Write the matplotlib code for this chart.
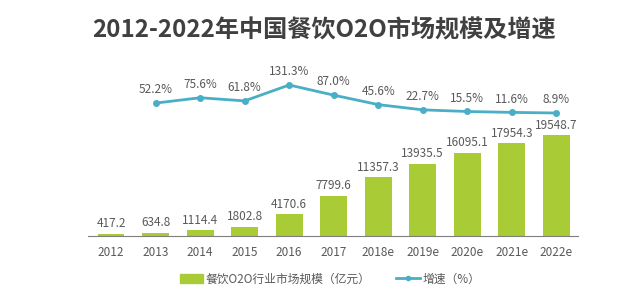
import matplotlib
matplotlib.use('Agg')
import matplotlib.pyplot as plt
from matplotlib.lines import Line2D
from matplotlib.patches import Patch

plt.rcParams['font.family'] = ['Noto Sans CJK SC', 'DejaVu Sans']

years = ['2012', '2013', '2014', '2015', '2016', '2017',
         '2018e', '2019e', '2020e', '2021e', '2022e']
scale = [417.2, 634.8, 1114.4, 1802.8, 4170.6, 7799.6,
         11357.3, 13935.5, 16095.1, 17954.3, 19548.7]
growth_years = years[1:]
growth = [52.2, 75.6, 61.8, 131.3, 87.0, 45.6, 22.7, 15.5, 11.6, 8.9]

bar_c = '#a9cb35'
line_c = '#4aafc6'
txt_c = '#595959'

fig = plt.figure(figsize=(6.4, 3.06), dpi=100)
ax = fig.add_axes([88 / 640, 1 - 236 / 306, 490 / 640, 161 / 306])
x = list(range(len(years)))
ax.bar(x, scale, width=0.6, color=bar_c)
for xi, v in zip(x, scale):
    ax.text(xi, v + 700, f'{v:.1f}', ha='center', va='bottom', fontsize=8.5, color=txt_c)
ax.set_xlim(-0.52, 10.49)
ax.set_ylim(0, 31200)
ax.set_xticks(x)
ax.set_xticklabels(years, fontsize=8.5, color=txt_c)
ax.tick_params(axis='x', length=0, pad=7)
ax.set_yticks([])
for s in ['top', 'right', 'left']:
    ax.spines[s].set_visible(False)
ax.spines['bottom'].set_color('#7f7f7f')

# 增速用次坐标轴
ax2 = ax.twinx()
gx = [years.index(y) for y in growth_years]
ax2.plot(gx, growth, color=line_c, lw=2, marker='o', ms=4)
for xi, v in zip(gx, growth):
    ax2.text(xi, v + 30, f'{v:.1f}%', ha='center', va='bottom', fontsize=8.5, color=txt_c)
ax2.set_ylim(-528.7, 175)
ax2.set_yticks([])
for s in ['top', 'right', 'left', 'bottom']:
    ax2.spines[s].set_visible(False)

fig.text(0.507, 1 - 30 / 306, '2012-2022年中国餐饮O2O市场规模及增速', ha='center', va='center',
         fontsize=17.4, fontweight='bold', color='#404040')

handles = [Patch(color=bar_c), Line2D([], [], color=line_c, lw=2, marker='o', ms=3)]
fig.legend(handles, ['餐饮O2O行业市场规模（亿元）', '增速（%）'], loc='center',
           bbox_to_anchor=(330 / 640, 1 - 279 / 306), ncol=2, frameon=False,
           fontsize=8.5, labelcolor=txt_c, handlelength=2.0, handletextpad=0.2,
           columnspacing=2.2)

fig.savefig('out.png', dpi=100, facecolor='white')
